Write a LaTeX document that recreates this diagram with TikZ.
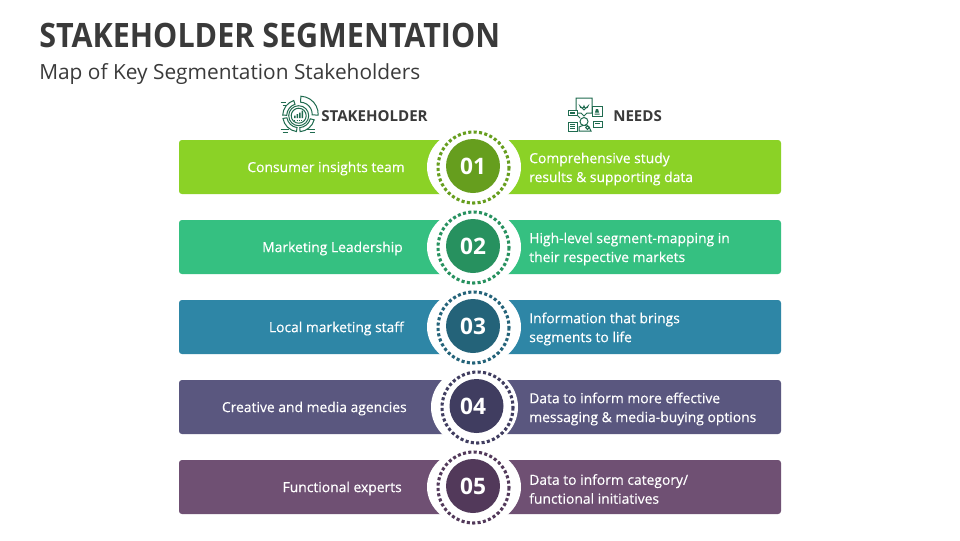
\documentclass[tikz,border=0pt]{standalone}
\usepackage{fontspec}
\setmainfont{Open Sans}
\usetikzlibrary{shapes.geometric}
\definecolor{titlec}{HTML}{3A3A3A}
\definecolor{icong}{HTML}{1F6B4F}
\definecolor{barA}{HTML}{8BD226}\definecolor{ringA}{HTML}{669E1E}
\definecolor{barB}{HTML}{35C081}\definecolor{ringB}{HTML}{27915F}
\definecolor{barC}{HTML}{2E86A6}\definecolor{ringC}{HTML}{246379}
\definecolor{barD}{HTML}{5A577F}\definecolor{ringD}{HTML}{403D60}
\definecolor{barE}{HTML}{6F5073}\definecolor{ringE}{HTML}{52395A}
\newcommand{\annseg}[4]{(#1:#3) arc[start angle=#1,end angle=#2,radius=#3] -- (#2:#4) arc[start angle=#2,end angle=#1,radius=#4] -- cycle}
\tikzset{
 x=0.75pt,y=-0.75pt,
 barbox/.style={draw=none,rounded corners=2.2pt,minimum width=451.5pt,minimum height=40.5pt,inner sep=0pt},
 halo/.style={fill=white,draw=none,ellipse,inner sep=0pt},
 disc/.style={circle,minimum size=40.5pt,inner sep=0pt},
 numtext/.style={text=white,inner sep=0pt,font=\fontsize{17}{20}\selectfont\bfseries},
 dotring/.style={line width=2.3pt,dash pattern=on 2.3pt off 1.75pt},
 lefttext/.style={anchor=east,text=white,font=\fontsize{10.4}{12}\selectfont\addfontfeature{FakeBold=0.35},inner sep=0pt},
 righttext/.style={anchor=west,align=left,text=white,font=\fontsize{10.4}{14.2}\selectfont\addfontfeature{FakeBold=0.35},inner sep=0pt},
 headtext/.style={anchor=west,text=titlec,font=\fontsize{11.3}{14}\selectfont\bfseries,inner sep=0pt},
 ico/.style={draw=icong,line width=0.75pt,fill=none},
}
\begin{document}
\begin{tikzpicture}
\useasboundingbox (0,0) rectangle (960,540);
\fill[white] (0,0) rectangle (960,540);
\node[anchor=west,inner sep=0pt,text=titlec,font=\fontsize{25.2}{30}\selectfont\bfseries\addfontfeature{FakeStretch=0.907}] (title) at (39,35) {STAKEHOLDER SEGMENTATION};
\node[anchor=west,inner sep=0pt,text=titlec,font=\fontsize{15.65}{18}\selectfont] (subtitle) at (39,74.5) {Map of Key Segmentation Stakeholders};
\node[headtext] (h1) at (321,116.5) {STAKEHOLDER};
\node[headtext] (h2) at (613,116.5) {NEEDS};
% stakeholder icon (y up inside this scope)
\begin{scope}[shift={(298.7,115.7)},yscale=-1]
 \draw[ico] (0,0) circle (10);
 \draw[ico] (0,0) circle (7.5);
 \draw[ico] \annseg{178}{108}{12}{16};
 \begin{scope}[shift={(1.5,1.5)}]
 \draw[ico] \annseg{88}{-3}{12}{18};
 \end{scope}
 \draw[ico] \annseg{190}{262}{12}{16};
 \draw[ico] \annseg{275}{345}{12}{16};
 \fill[icong] (-4.5,-2.5) rectangle (-3,0) (-2,-2.5) rectangle (-0.5,1.5) (0.5,-2.5) rectangle (2,3) (3,-2.5) rectangle (4.5,5);
 \draw[ico,densely dotted] (-4.5,-4.5) -- (4.5,-4.5);
 \draw[ico] (-18,13) -- (-13,13) (-16,10) -- (-12,10)
   (-18,-14) -- (-10,-14) (-16,-17) -- (-11,-17)
   (8,-14) -- (16,-14) (11,-17) -- (16,-17);
\end{scope}
% needs icon
\begin{scope}[shift={(585,116)}]
 \draw[ico,fill=white] (-9,-18) -- (7,-18) -- (7,-3) -- (2,-3) -- (-1,0) -- (-4,-3) -- (-9,-3) -- cycle;
 \draw[ico] (-1,-6) -- (-5,-10) arc[start angle=180,end angle=0,radius=2] arc[start angle=180,end angle=0,radius=2] -- cycle;
 \draw[ico,fill=white] (7,-10) rectangle (17,0);
 \fill[icong] (9.5,-2.5) rectangle (14.5,-1.5) (11,-7) -- (13,-7) -- (14,-3.5) -- (10,-3.5) -- cycle;
 \draw[ico,fill=white] (-17,-6) rectangle (-8,-1);
 \fill[icong] (-15,-4.5) rectangle (-10,-2.5);
 \draw[ico] (-8,-1) -- (-5,2);
 \draw[ico,fill=white] (-17,6) rectangle (-8,15);
 \draw[ico] (-15,8.5) -- (-10,8.5) (-15,10.5) -- (-10,10.5) (-15,12.5) -- (-10,12.5);
 \draw[ico,fill=white] (8,5) rectangle (17,11);
 \draw[ico] (10,7.5) -- (15,7.5);
 \draw[ico,fill=white] (-6,15) -- (-6,11) -- (-1,9) -- (4,11) -- (6,15) -- cycle;
 \draw[ico,fill=white] (-1,5.5) circle (4);
 \draw[ico] (2.5,11.5) circle (1.8);
\end{scope}
\foreach \i/\cy/\barc/\ringc/\num/\lend/\dcx/\rcx/\hcx/\ha/\hb/\ltxt/\rtxt in {
 a/167/barA/ringA/01/405/473/473.5/474/94/79/{Consumer insights team}/{Comprehensive study\\results \& supporting data},
 b/247/barB/ringB/02/403/473/473.5/474/94/79/{Marketing Leadership}/{High-level segment-mapping in\\their respective markets},
 c/327/barC/ringC/03/404/473/473.5/474/94/79/{Local marketing staff}/{Information that brings\\segments to life},
 d/407/barD/ringD/04/407/476.5/477.5/474.5/87/81/{Creative and media agencies}/{Data to inform more effective\\messaging \& media-buying options},
 e/487/barE/ringE/05/402/473/473.5/474/94/79/{Functional experts}/{Data to inform category/\\functional initiatives}}{
 \node[barbox,fill=\barc] (bar\i) at (480,\cy) {};
 \node[halo,minimum width=\ha*0.75pt,minimum height=\hb*0.75pt] (halo\i) at (\hcx,\cy) {};
 \draw[dotring,draw=\ringc] (\rcx,\cy+0.5) circle (35.5);
 \node[disc,fill=\ringc] (disc\i) at (\dcx,\cy-1) {};
 \node[numtext] (num\i) at (473,\cy-1) {\num};
 \node[lefttext] (left\i) at (\lend,\cy+1.5) {\ltxt};
 \node[righttext] (right\i) at (529,\cy+2) {\rtxt};
}
\end{tikzpicture}
\end{document}
